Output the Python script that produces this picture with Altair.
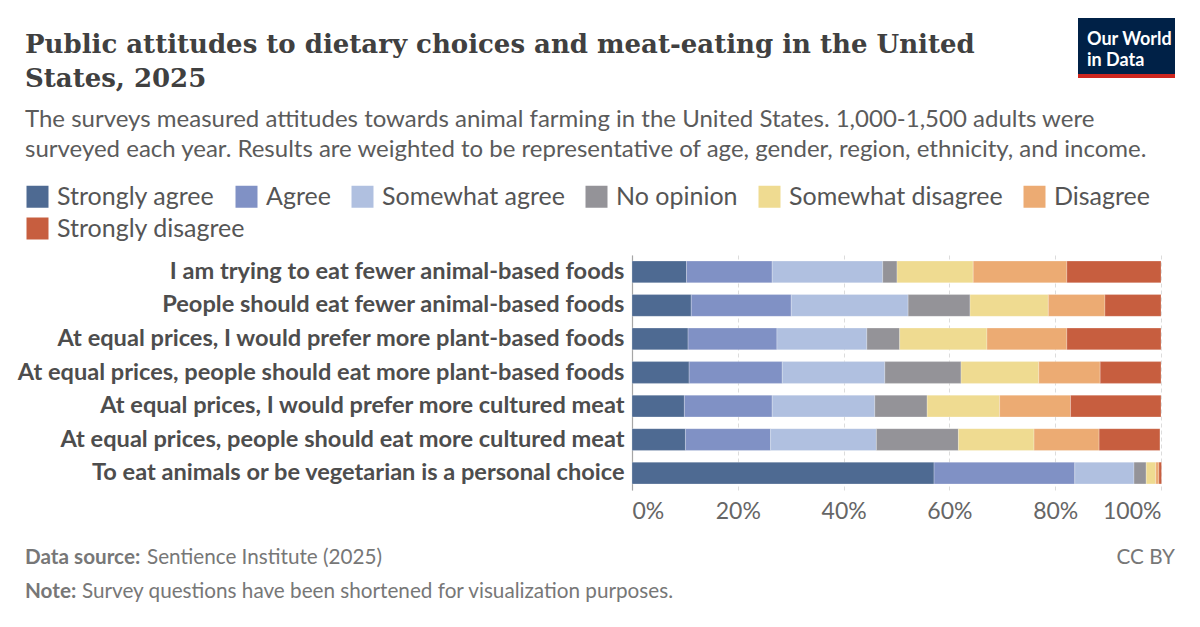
import altair as alt
import pandas as pd

questions = [
    "I am trying to eat fewer animal-based foods",
    "People should eat fewer animal-based foods",
    "At equal prices, I would prefer more plant-based foods",
    "At equal prices, people should eat more plant-based foods",
    "At equal prices, I would prefer more cultured meat",
    "At equal prices, people should eat more cultured meat",
    "To eat animals or be vegetarian is a personal choice",
]

responses = [
    "Strongly agree", "Agree", "Somewhat agree", "No opinion",
    "Somewhat disagree", "Disagree", "Strongly disagree",
]
colors = ["#4e6a92", "#8091c5", "#b0c0e0", "#949398", "#efdb91", "#ecab73", "#c75e3f"]

# Share of respondents (%) per question, one list per response
strongly_agree = [10.3, 11.2, 10.6, 10.8, 9.9, 10.1, 57.1]
agree = [16.2, 18.9, 16.8, 17.6, 16.6, 16.1, 26.6]
somewhat_agree = [20.9, 22.1, 17.0, 19.4, 19.4, 20.0, 11.2]
no_opinion = [2.7, 11.7, 6.2, 14.4, 9.9, 15.5, 2.3]
somewhat_disagree = [14.4, 14.8, 16.5, 14.7, 13.7, 14.3, 1.8]
disagree = [17.7, 10.7, 15.1, 11.6, 13.4, 12.3, 0.6]
strongly_disagree = [17.8, 10.6, 17.8, 11.5, 17.1, 11.5, 0.5]

series = [strongly_agree, agree, somewhat_agree, no_opinion,
          somewhat_disagree, disagree, strongly_disagree]

rows = []
for r_idx, (resp, vals) in enumerate(zip(responses, series)):
    for q, v in zip(questions, vals):
        rows.append({"question": q, "response": resp, "value": v, "order": r_idx})
df = pd.DataFrame(rows)

W, H = 529, 235
OX, OY = 632, 255  # plot origin on the page

legend_common = dict(
    title=None, orient="none", direction="horizontal",
    symbolType="square", symbolSize=484, symbolStrokeWidth=0, symbolOpacity=1,
    labelFont="Lato", labelFontSize=25, labelColor="#555555",
    labelOffset=7, columnPadding=19, labelLimit=400,
)

y_enc = alt.Y(
    "question:N",
    sort=questions,
    title=None,
    scale=alt.Scale(paddingInner=0.35, paddingOuter=0.18),
    axis=alt.Axis(
        labelFont="Lato", labelFontSize=23.6, labelFontWeight="bold",
        labelColor="#4d4d4d", labelPadding=8, ticks=False,
        domain=True, domainColor="#a6a6a6", domainWidth=1.2,
        grid=False, labelLimit=700,
    ),
)
x_enc = alt.X(
    "x0:Q",
    title=None,
    scale=alt.Scale(domain=[0, 100], nice=False),
    axis=alt.Axis(
        values=[0, 20, 40, 60, 80, 100],
        labelExpr="datum.value + '%'",
        labelFont="Lato", labelFontSize=23, labelColor="#666666",
        labelFlush=True, labelPadding=10,
        ticks=False, domain=False,
        grid=True, gridColor="#dcdcdc", gridDash=[4, 3], gridWidth=1,
    ),
)

stacked = alt.Chart(df).transform_stack(
    stack="value", groupby=["question"], as_=["x0", "x1"],
    sort=[alt.SortField("order", order="ascending")],
)

mark_style = dict(stroke="white", strokeWidth=0.4, strokeOpacity=0.6)

# first six responses: legend row one
bars_main = stacked.transform_filter(
    alt.FieldOneOfPredicate(field="response", oneOf=responses[:6])
).mark_bar(**mark_style).encode(
    y=y_enc, x=x_enc, x2="x1:Q",
    color=alt.Color(
        "response:N", sort=responses[:6],
        scale=alt.Scale(domain=responses[:6], range=colors[:6]),
        legend=alt.Legend(legendX=25 - OX, legendY=184 - OY, **legend_common),
    ),
)

# last response: legend row two
bars_last = stacked.transform_filter(
    alt.FieldEqualPredicate(field="response", equal=responses[6])
).mark_bar(**mark_style).encode(
    y=y_enc, x=x_enc, x2="x1:Q",
    color=alt.Color(
        "response:N",
        scale=alt.Scale(domain=responses[6:], range=colors[6:]),
        legend=alt.Legend(legendX=25 - OX, legendY=216 - OY, **legend_common),
    ),
)


def text_layer(text, x, y, size, color, font="Lato", weight="normal", align="left"):
    return alt.Chart(pd.DataFrame({"t": [text]})).mark_text(
        align=align, baseline="alphabetic", font=font, fontSize=size,
        fontWeight=weight, color=color,
    ).encode(text="t:N", x=alt.value(x), y=alt.value(y))


title_color = "#404040"
sub_color = "#5b5b5b"
foot_color = "#777777"
layers = [
    text_layer("Public attitudes to dietary choices and meat-eating in the United",
               25 - OX, 53 - OY, 26, title_color, font="DejaVu Serif", weight="bold"),
    text_layer("States, 2025", 25 - OX, 87 - OY, 26, title_color,
               font="DejaVu Serif", weight="bold"),
    text_layer("The surveys measured attitudes towards animal farming in the United States. 1,000-1,500 adults were",
               25 - OX, 127 - OY, 24, sub_color),
    text_layer("surveyed each year. Results are weighted to be representative of age, gender, region, ethnicity, and income.",
               25 - OX, 157 - OY, 24, sub_color),
    text_layer("Data source:", 25 - OX, 564 - OY, 20.7, foot_color, weight="bold"),
    text_layer("Sentience Institute (2025)", 147 - OX, 564 - OY, 20.7, foot_color),
    text_layer("Note:", 25 - OX, 598 - OY, 20.7, foot_color, weight="bold"),
    text_layer("Survey questions have been shortened for visualization purposes.",
               82 - OX, 598 - OY, 20.7, foot_color),
    text_layer("CC BY", 1175 - OX, 564 - OY, 20.7, foot_color, align="right"),
]

logo_box = alt.Chart(pd.DataFrame({"a": [0]})).mark_rect(color="#002147").encode(
    x=alt.value(1078 - OX), x2=alt.value(1175 - OX),
    y=alt.value(18 - OY), y2=alt.value(74 - OY),
)
logo_bar = alt.Chart(pd.DataFrame({"a": [0]})).mark_rect(color="#ce261e").encode(
    x=alt.value(1078 - OX), x2=alt.value(1175 - OX),
    y=alt.value(74 - OY), y2=alt.value(78 - OY),
)
logo_t1 = text_layer("Our World", 1087 - OX, 45 - OY, 18, "white", weight="bold")
logo_t2 = text_layer("in Data", 1087 - OX, 66 - OY, 18, "white", weight="bold")

chart = alt.layer(
    bars_main, bars_last, *layers, logo_box, logo_bar, logo_t1, logo_t2
).resolve_scale(color="independent").resolve_legend(color="independent").properties(
    width=W, height=H,
    padding={"left": OX, "top": OY, "right": 1200 - OX - W, "bottom": 627 - OY - H},
    autosize=alt.AutoSizeParams(type="none"),
    background="white",
).configure_view(stroke=None)

chart.save("out.html", embed_options={"renderer": "svg", "actions": False})
